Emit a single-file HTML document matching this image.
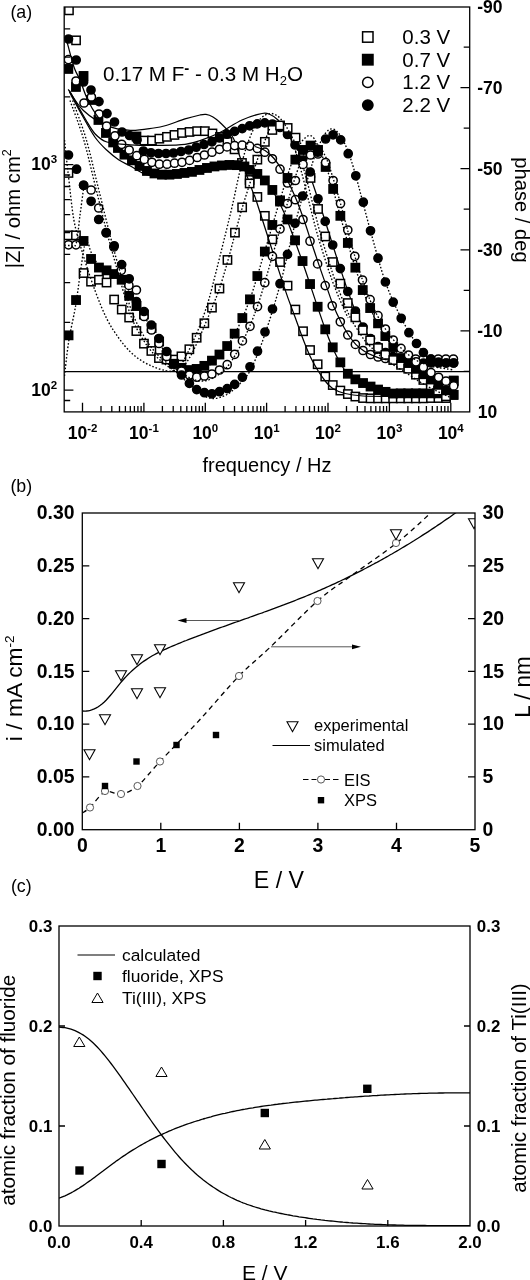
<!DOCTYPE html>
<html lang="en"><head><meta charset="utf-8"><title>Figure</title>
<style>html,body{margin:0;padding:0;background:#fff}body{width:530px;height:1280px;overflow:hidden}svg{display:block}</style>
</head><body>
<svg width="530" height="1280" viewBox="0 0 530 1280" style="display:block">
<rect width="530" height="1280" fill="#fff"/>
<defs><clipPath id="ca"><rect x="64.2" y="7.0" width="405.5" height="404.9"/></clipPath>
<clipPath id="cb"><rect x="82.3" y="513" width="392.7" height="316.7"/></clipPath>
<clipPath id="cc"><rect x="59" y="926" width="411" height="300"/></clipPath></defs>
<g clip-path="url(#ca)">
<path d="M64.2,371.6H469.7" stroke="#000" stroke-width="1.2" fill="none"/>
<rect x="64.8" y="6.2" width="8.3" height="8.3" fill="#fff" stroke="#000" stroke-width="1.5"/><rect x="71.9" y="36.2" width="8.3" height="8.3" fill="#fff" stroke="#000" stroke-width="1.5"/><rect x="140.2" y="136.4" width="8.3" height="8.3" fill="#fff" stroke="#000" stroke-width="1.5"/><rect x="147.8" y="136.4" width="8.3" height="8.3" fill="#fff" stroke="#000" stroke-width="1.5"/><rect x="155.2" y="134.5" width="8.3" height="8.3" fill="#fff" stroke="#000" stroke-width="1.5"/><rect x="162.8" y="132.7" width="8.3" height="8.3" fill="#fff" stroke="#000" stroke-width="1.5"/><rect x="170.3" y="130.8" width="8.3" height="8.3" fill="#fff" stroke="#000" stroke-width="1.5"/><rect x="177.8" y="128.8" width="8.3" height="8.3" fill="#fff" stroke="#000" stroke-width="1.5"/><rect x="185.4" y="127.8" width="8.3" height="8.3" fill="#fff" stroke="#000" stroke-width="1.5"/><rect x="193.0" y="127.0" width="8.3" height="8.3" fill="#fff" stroke="#000" stroke-width="1.5"/><rect x="200.7" y="127.0" width="8.3" height="8.3" fill="#fff" stroke="#000" stroke-width="1.5"/><rect x="208.3" y="129.3" width="8.3" height="8.3" fill="#fff" stroke="#000" stroke-width="1.5"/><rect x="215.8" y="132.8" width="8.3" height="8.3" fill="#fff" stroke="#000" stroke-width="1.5"/><rect x="223.3" y="137.8" width="8.3" height="8.3" fill="#fff" stroke="#000" stroke-width="1.5"/><rect x="230.4" y="145.2" width="8.3" height="8.3" fill="#fff" stroke="#000" stroke-width="1.5"/><rect x="237.8" y="158.8" width="8.3" height="8.3" fill="#fff" stroke="#000" stroke-width="1.5"/><rect x="245.5" y="175.8" width="8.3" height="8.3" fill="#fff" stroke="#000" stroke-width="1.5"/><rect x="253.2" y="192.8" width="8.3" height="8.3" fill="#fff" stroke="#000" stroke-width="1.5"/><rect x="260.7" y="211.7" width="8.3" height="8.3" fill="#fff" stroke="#000" stroke-width="1.5"/><rect x="268.2" y="235.2" width="8.3" height="8.3" fill="#fff" stroke="#000" stroke-width="1.5"/><rect x="275.9" y="257.9" width="8.3" height="8.3" fill="#fff" stroke="#000" stroke-width="1.5"/><rect x="283.4" y="281.5" width="8.3" height="8.3" fill="#fff" stroke="#000" stroke-width="1.5"/><rect x="291.2" y="305.4" width="8.3" height="8.3" fill="#fff" stroke="#000" stroke-width="1.5"/><rect x="298.9" y="327.1" width="8.3" height="8.3" fill="#fff" stroke="#000" stroke-width="1.5"/><rect x="305.9" y="345.9" width="8.3" height="8.3" fill="#fff" stroke="#000" stroke-width="1.5"/><rect x="313.5" y="360.1" width="8.3" height="8.3" fill="#fff" stroke="#000" stroke-width="1.5"/><rect x="321.1" y="372.4" width="8.3" height="8.3" fill="#fff" stroke="#000" stroke-width="1.5"/><rect x="328.6" y="380.9" width="8.3" height="8.3" fill="#fff" stroke="#000" stroke-width="1.5"/><rect x="336.2" y="386.4" width="8.3" height="8.3" fill="#fff" stroke="#000" stroke-width="1.5"/><rect x="343.7" y="389.9" width="8.3" height="8.3" fill="#fff" stroke="#000" stroke-width="1.5"/><rect x="351.2" y="392.4" width="8.3" height="8.3" fill="#fff" stroke="#000" stroke-width="1.5"/><rect x="358.9" y="393.9" width="8.3" height="8.3" fill="#fff" stroke="#000" stroke-width="1.5"/><rect x="366.4" y="394.2" width="8.3" height="8.3" fill="#fff" stroke="#000" stroke-width="1.5"/><rect x="373.9" y="394.2" width="8.3" height="8.3" fill="#fff" stroke="#000" stroke-width="1.5"/><rect x="381.5" y="394.2" width="8.3" height="8.3" fill="#fff" stroke="#000" stroke-width="1.5"/><rect x="389.0" y="394.2" width="8.3" height="8.3" fill="#fff" stroke="#000" stroke-width="1.5"/><rect x="396.6" y="394.2" width="8.3" height="8.3" fill="#fff" stroke="#000" stroke-width="1.5"/><rect x="404.1" y="394.2" width="8.3" height="8.3" fill="#fff" stroke="#000" stroke-width="1.5"/><rect x="411.7" y="394.2" width="8.3" height="8.3" fill="#fff" stroke="#000" stroke-width="1.5"/><rect x="419.2" y="394.2" width="8.3" height="8.3" fill="#fff" stroke="#000" stroke-width="1.5"/><rect x="426.8" y="393.9" width="8.3" height="8.3" fill="#fff" stroke="#000" stroke-width="1.5"/><rect x="434.3" y="393.9" width="8.3" height="8.3" fill="#fff" stroke="#000" stroke-width="1.5"/><rect x="441.9" y="393.9" width="8.3" height="8.3" fill="#fff" stroke="#000" stroke-width="1.5"/><rect x="449.4" y="390.7" width="8.3" height="8.3" fill="#fff" stroke="#000" stroke-width="1.5"/>
<path d="M68.2,89.4C70.7,92.9 77.0,104.5 83.4,110.5C89.9,116.5 99.1,122.4 106.9,125.7C114.7,129.0 122.5,130.0 130.3,130.4C138.1,130.8 147.9,128.8 153.8,128.0C159.8,127.2 160.8,127.0 166.0,125.5C171.2,124.0 179.3,120.7 185.0,118.9C190.7,117.2 196.5,115.8 200.0,115.0C203.5,114.2 203.8,114.1 206.0,114.4C208.2,114.7 210.8,115.7 213.0,117.0C215.2,118.3 216.2,118.7 219.5,122.0C222.8,125.3 229.2,131.0 232.7,137.0C236.2,143.0 236.8,148.4 240.3,157.8C243.8,167.2 250.7,186.2 253.5,193.7C256.3,201.2 252.0,187.7 257.0,203.0C262.0,218.3 277.3,266.4 283.7,285.6C290.1,304.8 292.2,309.1 295.4,318.0C298.6,326.9 300.6,332.7 303.0,339.0C305.4,345.3 307.6,350.8 310.0,356.0C312.4,361.2 315.1,365.8 317.6,370.0C320.1,374.2 322.7,377.9 325.2,381.0C327.7,384.1 329.4,386.4 332.7,388.5C336.0,390.6 339.9,392.2 345.0,393.5C350.1,394.8 353.8,395.5 363.0,396.0C372.2,396.5 384.9,396.4 400.0,396.5C415.1,396.6 444.7,396.5 453.6,396.5" fill="none" stroke="#000" stroke-width="1.25"/>
<rect x="64.2" y="64.8" width="8.3" height="8.3" fill="#000" stroke="#000" stroke-width="1.5"/><rect x="71.8" y="82.8" width="8.3" height="8.3" fill="#000" stroke="#000" stroke-width="1.5"/><rect x="79.4" y="71.8" width="8.3" height="8.3" fill="#000" stroke="#000" stroke-width="1.5"/><rect x="86.8" y="95.8" width="8.3" height="8.3" fill="#000" stroke="#000" stroke-width="1.5"/><rect x="94.3" y="115.8" width="8.3" height="8.3" fill="#000" stroke="#000" stroke-width="1.5"/><rect x="101.8" y="128.8" width="8.3" height="8.3" fill="#000" stroke="#000" stroke-width="1.5"/><rect x="109.0" y="138.3" width="8.3" height="8.3" fill="#000" stroke="#000" stroke-width="1.5"/><rect x="113.8" y="143.8" width="8.3" height="8.3" fill="#000" stroke="#000" stroke-width="1.5"/><rect x="120.3" y="150.5" width="8.3" height="8.3" fill="#000" stroke="#000" stroke-width="1.5"/><rect x="127.8" y="156.2" width="8.3" height="8.3" fill="#000" stroke="#000" stroke-width="1.5"/><rect x="135.4" y="161.8" width="8.3" height="8.3" fill="#000" stroke="#000" stroke-width="1.5"/><rect x="142.8" y="166.8" width="8.3" height="8.3" fill="#000" stroke="#000" stroke-width="1.5"/><rect x="150.3" y="169.3" width="8.3" height="8.3" fill="#000" stroke="#000" stroke-width="1.5"/><rect x="157.8" y="170.5" width="8.3" height="8.3" fill="#000" stroke="#000" stroke-width="1.5"/><rect x="165.3" y="170.5" width="8.3" height="8.3" fill="#000" stroke="#000" stroke-width="1.5"/><rect x="172.8" y="169.8" width="8.3" height="8.3" fill="#000" stroke="#000" stroke-width="1.5"/><rect x="180.3" y="168.8" width="8.3" height="8.3" fill="#000" stroke="#000" stroke-width="1.5"/><rect x="187.8" y="167.7" width="8.3" height="8.3" fill="#000" stroke="#000" stroke-width="1.5"/><rect x="195.3" y="165.8" width="8.3" height="8.3" fill="#000" stroke="#000" stroke-width="1.5"/><rect x="202.8" y="163.8" width="8.3" height="8.3" fill="#000" stroke="#000" stroke-width="1.5"/><rect x="210.3" y="162.3" width="8.3" height="8.3" fill="#000" stroke="#000" stroke-width="1.5"/><rect x="217.8" y="161.3" width="8.3" height="8.3" fill="#000" stroke="#000" stroke-width="1.5"/><rect x="225.3" y="160.8" width="8.3" height="8.3" fill="#000" stroke="#000" stroke-width="1.5"/><rect x="232.8" y="161.0" width="8.3" height="8.3" fill="#000" stroke="#000" stroke-width="1.5"/><rect x="240.3" y="162.3" width="8.3" height="8.3" fill="#000" stroke="#000" stroke-width="1.5"/><rect x="245.5" y="165.8" width="8.3" height="8.3" fill="#000" stroke="#000" stroke-width="1.5"/><rect x="253.2" y="169.8" width="8.3" height="8.3" fill="#000" stroke="#000" stroke-width="1.5"/><rect x="260.7" y="176.3" width="8.3" height="8.3" fill="#000" stroke="#000" stroke-width="1.5"/><rect x="268.2" y="185.8" width="8.3" height="8.3" fill="#000" stroke="#000" stroke-width="1.5"/><rect x="275.9" y="196.2" width="8.3" height="8.3" fill="#000" stroke="#000" stroke-width="1.5"/><rect x="283.4" y="215.3" width="8.3" height="8.3" fill="#000" stroke="#000" stroke-width="1.5"/><rect x="290.9" y="236.2" width="8.3" height="8.3" fill="#000" stroke="#000" stroke-width="1.5"/><rect x="298.4" y="256.9" width="8.3" height="8.3" fill="#000" stroke="#000" stroke-width="1.5"/><rect x="305.9" y="279.9" width="8.3" height="8.3" fill="#000" stroke="#000" stroke-width="1.5"/><rect x="313.5" y="302.6" width="8.3" height="8.3" fill="#000" stroke="#000" stroke-width="1.5"/><rect x="321.1" y="325.2" width="8.3" height="8.3" fill="#000" stroke="#000" stroke-width="1.5"/><rect x="328.6" y="343.2" width="8.3" height="8.3" fill="#000" stroke="#000" stroke-width="1.5"/><rect x="336.2" y="358.2" width="8.3" height="8.3" fill="#000" stroke="#000" stroke-width="1.5"/><rect x="343.7" y="369.6" width="8.3" height="8.3" fill="#000" stroke="#000" stroke-width="1.5"/><rect x="351.2" y="375.2" width="8.3" height="8.3" fill="#000" stroke="#000" stroke-width="1.5"/><rect x="358.9" y="378.9" width="8.3" height="8.3" fill="#000" stroke="#000" stroke-width="1.5"/><rect x="366.4" y="382.4" width="8.3" height="8.3" fill="#000" stroke="#000" stroke-width="1.5"/><rect x="373.9" y="385.4" width="8.3" height="8.3" fill="#000" stroke="#000" stroke-width="1.5"/><rect x="381.4" y="387.7" width="8.3" height="8.3" fill="#000" stroke="#000" stroke-width="1.5"/><rect x="388.9" y="389.4" width="8.3" height="8.3" fill="#000" stroke="#000" stroke-width="1.5"/><rect x="396.5" y="389.2" width="8.3" height="8.3" fill="#000" stroke="#000" stroke-width="1.5"/><rect x="404.0" y="389.2" width="8.3" height="8.3" fill="#000" stroke="#000" stroke-width="1.5"/><rect x="411.6" y="389.2" width="8.3" height="8.3" fill="#000" stroke="#000" stroke-width="1.5"/><rect x="419.1" y="389.2" width="8.3" height="8.3" fill="#000" stroke="#000" stroke-width="1.5"/><rect x="426.7" y="389.2" width="8.3" height="8.3" fill="#000" stroke="#000" stroke-width="1.5"/><rect x="434.2" y="389.2" width="8.3" height="8.3" fill="#000" stroke="#000" stroke-width="1.5"/><rect x="441.8" y="389.2" width="8.3" height="8.3" fill="#000" stroke="#000" stroke-width="1.5"/><rect x="449.3" y="390.7" width="8.3" height="8.3" fill="#000" stroke="#000" stroke-width="1.5"/>
<rect x="132.3" y="132.3" width="8.3" height="8.3" fill="#000" stroke="#000" stroke-width="1.5"/>
<path d="M69.4,92.0C71.7,96.2 79.1,109.9 83.4,117.5C87.7,125.1 91.3,132.0 95.2,137.5C99.1,143.0 103.0,146.6 106.9,150.3C110.8,154.0 114.7,157.1 118.6,159.7C122.5,162.3 125.5,163.4 130.3,166.0C135.1,168.6 140.6,173.1 147.2,175.0C153.8,176.9 161.2,177.8 170.0,177.5C178.8,177.2 191.3,174.6 200.0,173.0C208.7,171.4 215.3,169.0 222.0,168.0C228.7,167.0 235.3,166.8 240.0,167.0C244.7,167.2 246.5,167.9 250.0,169.5C253.5,171.1 257.6,173.4 261.0,176.5C264.4,179.6 267.3,183.4 270.5,188.0C273.7,192.6 277.2,198.5 280.0,204.0C282.8,209.5 283.8,211.3 287.5,221.0C291.2,230.7 297.5,247.7 302.5,262.0C307.5,276.3 313.8,295.8 317.6,307.0C321.4,318.2 322.7,322.2 325.2,329.0C327.7,335.8 330.2,342.3 332.7,348.0C335.2,353.7 337.8,358.7 340.3,363.0C342.8,367.3 344.0,370.2 347.8,373.7C351.6,377.2 356.8,381.0 363.0,384.0C369.2,387.0 377.2,389.8 385.0,391.5C392.8,393.2 398.6,393.5 410.0,394.0C421.4,394.5 446.3,394.4 453.6,394.5" fill="none" stroke="#000" stroke-width="1.25"/>
<circle cx="68.4" cy="59.6" r="4.1" fill="#fff" stroke="#000" stroke-width="1.5"/><circle cx="76.0" cy="81.0" r="4.1" fill="#fff" stroke="#000" stroke-width="1.5"/><circle cx="84.0" cy="103.0" r="4.1" fill="#fff" stroke="#000" stroke-width="1.5"/><circle cx="91.4" cy="97.0" r="4.1" fill="#fff" stroke="#000" stroke-width="1.5"/><circle cx="99.0" cy="114.0" r="4.1" fill="#fff" stroke="#000" stroke-width="1.5"/><circle cx="106.6" cy="126.0" r="4.1" fill="#fff" stroke="#000" stroke-width="1.5"/><circle cx="115.0" cy="135.8" r="4.1" fill="#fff" stroke="#000" stroke-width="1.5"/><circle cx="121.7" cy="144.3" r="4.1" fill="#fff" stroke="#000" stroke-width="1.5"/><circle cx="129.2" cy="150.0" r="4.1" fill="#fff" stroke="#000" stroke-width="1.5"/><circle cx="136.8" cy="155.7" r="4.1" fill="#fff" stroke="#000" stroke-width="1.5"/><circle cx="144.3" cy="159.4" r="4.1" fill="#fff" stroke="#000" stroke-width="1.5"/><circle cx="151.9" cy="162.3" r="4.1" fill="#fff" stroke="#000" stroke-width="1.5"/><circle cx="159.4" cy="164.2" r="4.1" fill="#fff" stroke="#000" stroke-width="1.5"/><circle cx="167.0" cy="164.2" r="4.1" fill="#fff" stroke="#000" stroke-width="1.5"/><circle cx="174.5" cy="163.2" r="4.1" fill="#fff" stroke="#000" stroke-width="1.5"/><circle cx="182.0" cy="162.3" r="4.1" fill="#fff" stroke="#000" stroke-width="1.5"/><circle cx="189.6" cy="160.4" r="4.1" fill="#fff" stroke="#000" stroke-width="1.5"/><circle cx="197.2" cy="157.5" r="4.1" fill="#fff" stroke="#000" stroke-width="1.5"/><circle cx="204.4" cy="155.0" r="4.1" fill="#fff" stroke="#000" stroke-width="1.5"/><circle cx="212.0" cy="152.2" r="4.1" fill="#fff" stroke="#000" stroke-width="1.5"/><circle cx="219.5" cy="149.3" r="4.1" fill="#fff" stroke="#000" stroke-width="1.5"/><circle cx="227.0" cy="146.9" r="4.1" fill="#fff" stroke="#000" stroke-width="1.5"/><circle cx="234.6" cy="145.6" r="4.1" fill="#fff" stroke="#000" stroke-width="1.5"/><circle cx="242.2" cy="145.2" r="4.1" fill="#fff" stroke="#000" stroke-width="1.5"/><circle cx="249.7" cy="146.1" r="4.1" fill="#fff" stroke="#000" stroke-width="1.5"/><circle cx="257.3" cy="148.4" r="4.1" fill="#fff" stroke="#000" stroke-width="1.5"/><circle cx="264.8" cy="152.2" r="4.1" fill="#fff" stroke="#000" stroke-width="1.5"/><circle cx="272.4" cy="158.8" r="4.1" fill="#fff" stroke="#000" stroke-width="1.5"/><circle cx="280.0" cy="169.2" r="4.1" fill="#fff" stroke="#000" stroke-width="1.5"/><circle cx="287.5" cy="183.0" r="4.1" fill="#fff" stroke="#000" stroke-width="1.5"/><circle cx="295.4" cy="199.7" r="4.1" fill="#fff" stroke="#000" stroke-width="1.5"/><circle cx="303.0" cy="219.5" r="4.1" fill="#fff" stroke="#000" stroke-width="1.5"/><circle cx="310.0" cy="241.2" r="4.1" fill="#fff" stroke="#000" stroke-width="1.5"/><circle cx="317.6" cy="263.9" r="4.1" fill="#fff" stroke="#000" stroke-width="1.5"/><circle cx="325.2" cy="285.6" r="4.1" fill="#fff" stroke="#000" stroke-width="1.5"/><circle cx="332.2" cy="305.8" r="4.1" fill="#fff" stroke="#000" stroke-width="1.5"/><circle cx="340.3" cy="321.8" r="4.1" fill="#fff" stroke="#000" stroke-width="1.5"/><circle cx="347.8" cy="335.0" r="4.1" fill="#fff" stroke="#000" stroke-width="1.5"/><circle cx="355.4" cy="344.4" r="4.1" fill="#fff" stroke="#000" stroke-width="1.5"/><circle cx="363.0" cy="350.5" r="4.1" fill="#fff" stroke="#000" stroke-width="1.5"/><circle cx="370.5" cy="354.5" r="4.1" fill="#fff" stroke="#000" stroke-width="1.5"/><circle cx="378.0" cy="357.0" r="4.1" fill="#fff" stroke="#000" stroke-width="1.5"/><circle cx="385.4" cy="358.5" r="4.1" fill="#fff" stroke="#000" stroke-width="1.5"/><circle cx="393.0" cy="359.0" r="4.1" fill="#fff" stroke="#000" stroke-width="1.5"/><circle cx="400.6" cy="359.0" r="4.1" fill="#fff" stroke="#000" stroke-width="1.5"/><circle cx="408.1" cy="359.0" r="4.1" fill="#fff" stroke="#000" stroke-width="1.5"/><circle cx="415.7" cy="359.0" r="4.1" fill="#fff" stroke="#000" stroke-width="1.5"/><circle cx="423.2" cy="359.0" r="4.1" fill="#fff" stroke="#000" stroke-width="1.5"/><circle cx="430.8" cy="359.0" r="4.1" fill="#fff" stroke="#000" stroke-width="1.5"/><circle cx="438.3" cy="359.0" r="4.1" fill="#fff" stroke="#000" stroke-width="1.5"/><circle cx="445.9" cy="359.0" r="4.1" fill="#fff" stroke="#000" stroke-width="1.5"/><circle cx="453.4" cy="359.0" r="4.1" fill="#fff" stroke="#000" stroke-width="1.5"/>
<path d="M255.0,146.5C256.7,147.2 261.8,148.5 265.0,150.5C268.2,152.5 271.2,155.2 274.0,158.5C276.8,161.8 279.5,165.8 282.0,170.0C284.5,174.2 286.6,178.5 289.0,183.5C291.4,188.5 294.0,193.9 296.5,200.0C299.0,206.1 301.6,213.1 304.0,220.0C306.4,226.9 308.6,233.9 311.0,241.2C313.4,248.5 316.1,256.5 318.6,263.9C321.1,271.3 323.7,278.6 326.2,285.6C328.7,292.6 331.0,299.9 333.5,306.0C336.0,312.1 338.5,317.2 341.0,322.0C343.5,326.8 346.0,331.2 348.5,335.0C351.0,338.8 353.4,341.9 356.0,344.6C358.6,347.3 361.3,349.2 364.0,351.0C366.7,352.8 368.5,353.8 372.0,355.2C375.5,356.6 378.7,358.4 385.0,359.5C391.3,360.6 398.6,361.5 410.0,362.0C421.4,362.5 446.3,362.4 453.6,362.5" fill="none" stroke="#000" stroke-width="1.25"/>
<circle cx="68.5" cy="39.0" r="4.1" fill="#000" stroke="#000" stroke-width="1.5"/><circle cx="76.2" cy="60.0" r="4.1" fill="#000" stroke="#000" stroke-width="1.5"/><circle cx="83.6" cy="82.0" r="4.1" fill="#000" stroke="#000" stroke-width="1.5"/><circle cx="91.0" cy="90.0" r="4.1" fill="#000" stroke="#000" stroke-width="1.5"/><circle cx="99.0" cy="101.6" r="4.1" fill="#000" stroke="#000" stroke-width="1.5"/><circle cx="107.0" cy="113.6" r="4.1" fill="#000" stroke="#000" stroke-width="1.5"/><circle cx="114.5" cy="122.0" r="4.1" fill="#000" stroke="#000" stroke-width="1.5"/><circle cx="122.0" cy="132.0" r="4.1" fill="#000" stroke="#000" stroke-width="1.5"/><circle cx="129.5" cy="135.5" r="4.1" fill="#000" stroke="#000" stroke-width="1.5"/><circle cx="137.0" cy="140.0" r="4.1" fill="#000" stroke="#000" stroke-width="1.5"/><circle cx="143.4" cy="151.0" r="4.1" fill="#000" stroke="#000" stroke-width="1.5"/><circle cx="151.0" cy="152.8" r="4.1" fill="#000" stroke="#000" stroke-width="1.5"/><circle cx="158.5" cy="153.5" r="4.1" fill="#000" stroke="#000" stroke-width="1.5"/><circle cx="166.0" cy="153.5" r="4.1" fill="#000" stroke="#000" stroke-width="1.5"/><circle cx="173.5" cy="153.0" r="4.1" fill="#000" stroke="#000" stroke-width="1.5"/><circle cx="181.0" cy="151.5" r="4.1" fill="#000" stroke="#000" stroke-width="1.5"/><circle cx="188.7" cy="150.0" r="4.1" fill="#000" stroke="#000" stroke-width="1.5"/><circle cx="196.2" cy="147.2" r="4.1" fill="#000" stroke="#000" stroke-width="1.5"/><circle cx="204.0" cy="144.5" r="4.1" fill="#000" stroke="#000" stroke-width="1.5"/><circle cx="212.0" cy="141.8" r="4.1" fill="#000" stroke="#000" stroke-width="1.5"/><circle cx="219.5" cy="138.0" r="4.1" fill="#000" stroke="#000" stroke-width="1.5"/><circle cx="227.0" cy="134.2" r="4.1" fill="#000" stroke="#000" stroke-width="1.5"/><circle cx="234.6" cy="131.4" r="4.1" fill="#000" stroke="#000" stroke-width="1.5"/><circle cx="242.2" cy="128.6" r="4.1" fill="#000" stroke="#000" stroke-width="1.5"/><circle cx="249.7" cy="125.8" r="4.1" fill="#000" stroke="#000" stroke-width="1.5"/><circle cx="257.3" cy="123.9" r="4.1" fill="#000" stroke="#000" stroke-width="1.5"/><circle cx="264.8" cy="122.9" r="4.1" fill="#000" stroke="#000" stroke-width="1.5"/><circle cx="272.4" cy="124.0" r="4.1" fill="#000" stroke="#000" stroke-width="1.5"/><circle cx="280.0" cy="127.5" r="4.1" fill="#000" stroke="#000" stroke-width="1.5"/><circle cx="287.5" cy="134.5" r="4.1" fill="#000" stroke="#000" stroke-width="1.5"/><circle cx="295.0" cy="145.0" r="4.1" fill="#000" stroke="#000" stroke-width="1.5"/><circle cx="303.0" cy="158.0" r="4.1" fill="#000" stroke="#000" stroke-width="1.5"/><circle cx="310.5" cy="177.0" r="4.1" fill="#000" stroke="#000" stroke-width="1.5"/><circle cx="318.0" cy="198.8" r="4.1" fill="#000" stroke="#000" stroke-width="1.5"/><circle cx="325.2" cy="221.4" r="4.1" fill="#000" stroke="#000" stroke-width="1.5"/><circle cx="332.7" cy="245.0" r="4.1" fill="#000" stroke="#000" stroke-width="1.5"/><circle cx="340.3" cy="268.6" r="4.1" fill="#000" stroke="#000" stroke-width="1.5"/><circle cx="347.8" cy="291.5" r="4.1" fill="#000" stroke="#000" stroke-width="1.5"/><circle cx="355.4" cy="311.0" r="4.1" fill="#000" stroke="#000" stroke-width="1.5"/><circle cx="363.0" cy="327.0" r="4.1" fill="#000" stroke="#000" stroke-width="1.5"/><circle cx="370.5" cy="338.5" r="4.1" fill="#000" stroke="#000" stroke-width="1.5"/><circle cx="378.0" cy="346.5" r="4.1" fill="#000" stroke="#000" stroke-width="1.5"/><circle cx="385.5" cy="352.5" r="4.1" fill="#000" stroke="#000" stroke-width="1.5"/><circle cx="393.0" cy="356.5" r="4.1" fill="#000" stroke="#000" stroke-width="1.5"/><circle cx="400.7" cy="359.5" r="4.1" fill="#000" stroke="#000" stroke-width="1.5"/><circle cx="408.0" cy="361.5" r="4.1" fill="#000" stroke="#000" stroke-width="1.5"/><circle cx="416.0" cy="362.5" r="4.1" fill="#000" stroke="#000" stroke-width="1.5"/><circle cx="423.5" cy="363.0" r="4.1" fill="#000" stroke="#000" stroke-width="1.5"/><circle cx="431.1" cy="363.0" r="4.1" fill="#000" stroke="#000" stroke-width="1.5"/><circle cx="438.6" cy="363.0" r="4.1" fill="#000" stroke="#000" stroke-width="1.5"/><circle cx="446.2" cy="363.0" r="4.1" fill="#000" stroke="#000" stroke-width="1.5"/><circle cx="453.7" cy="363.0" r="4.1" fill="#000" stroke="#000" stroke-width="1.5"/>
<path d="M69.4,90.5C72.1,95.4 81.5,112.5 85.8,119.8C90.1,127.0 91.7,130.3 95.2,134.0C98.7,137.7 101.1,140.2 106.9,142.0C112.8,143.8 121.1,144.2 130.3,144.8C139.5,145.4 152.9,145.4 162.0,145.3C171.1,145.2 178.7,145.1 185.0,144.3C191.3,143.5 194.3,142.5 200.0,140.6C205.7,138.7 212.0,136.4 219.0,133.0C226.0,129.6 234.8,123.2 242.0,120.0C249.2,116.8 257.3,114.4 262.0,113.5C266.7,112.6 267.3,113.4 270.0,114.5C272.7,115.6 275.1,116.7 278.0,120.0C280.9,123.3 283.3,128.2 287.5,134.5C291.7,140.8 297.9,147.2 303.0,158.0C308.1,168.8 311.8,180.6 318.0,199.0C324.2,217.4 334.1,249.9 340.3,268.6C346.5,287.3 350.4,299.4 355.4,311.0C360.4,322.6 365.5,331.6 370.5,338.5C375.5,345.4 379.2,348.7 385.5,352.5C391.8,356.3 396.6,359.6 408.0,361.5C419.4,363.4 446.0,363.6 453.6,364.0" fill="none" stroke="#000" stroke-width="1.25"/>
<path d="M66.0,38.0C66.4,39.5 66.9,41.6 68.3,46.7C69.7,51.8 72.5,63.0 74.5,68.5C76.5,74.0 78.1,75.4 80.0,80.0C81.9,84.6 84.0,91.3 86.0,96.0C88.0,100.7 89.7,104.0 92.0,108.0C94.3,112.0 98.7,118.0 100.0,120.0" fill="none" stroke="#000" stroke-width="1.25"/>
<rect x="64.3" y="168.8" width="8.3" height="8.3" fill="#fff" stroke="#000" stroke-width="1.5"/><rect x="64.3" y="231.2" width="8.3" height="8.3" fill="#fff" stroke="#000" stroke-width="1.5"/><rect x="71.8" y="231.2" width="8.3" height="8.3" fill="#fff" stroke="#000" stroke-width="1.5"/><rect x="79.4" y="268.9" width="8.3" height="8.3" fill="#fff" stroke="#000" stroke-width="1.5"/><rect x="86.9" y="277.5" width="8.3" height="8.3" fill="#fff" stroke="#000" stroke-width="1.5"/><rect x="94.8" y="275.6" width="8.3" height="8.3" fill="#fff" stroke="#000" stroke-width="1.5"/><rect x="102.4" y="278.4" width="8.3" height="8.3" fill="#fff" stroke="#000" stroke-width="1.5"/><rect x="110.0" y="295.4" width="8.3" height="8.3" fill="#fff" stroke="#000" stroke-width="1.5"/><rect x="117.6" y="305.4" width="8.3" height="8.3" fill="#fff" stroke="#000" stroke-width="1.5"/><rect x="125.0" y="313.4" width="8.3" height="8.3" fill="#fff" stroke="#000" stroke-width="1.5"/><rect x="132.2" y="326.9" width="8.3" height="8.3" fill="#fff" stroke="#000" stroke-width="1.5"/><rect x="139.8" y="339.5" width="8.3" height="8.3" fill="#fff" stroke="#000" stroke-width="1.5"/><rect x="147.2" y="346.8" width="8.3" height="8.3" fill="#fff" stroke="#000" stroke-width="1.5"/><rect x="154.8" y="353.9" width="8.3" height="8.3" fill="#fff" stroke="#000" stroke-width="1.5"/><rect x="162.3" y="355.4" width="8.3" height="8.3" fill="#fff" stroke="#000" stroke-width="1.5"/><rect x="169.8" y="355.4" width="8.3" height="8.3" fill="#fff" stroke="#000" stroke-width="1.5"/><rect x="177.3" y="352.2" width="8.3" height="8.3" fill="#fff" stroke="#000" stroke-width="1.5"/><rect x="185.2" y="345.1" width="8.3" height="8.3" fill="#fff" stroke="#000" stroke-width="1.5"/><rect x="192.5" y="333.6" width="8.3" height="8.3" fill="#fff" stroke="#000" stroke-width="1.5"/><rect x="200.2" y="319.1" width="8.3" height="8.3" fill="#fff" stroke="#000" stroke-width="1.5"/><rect x="207.8" y="303.5" width="8.3" height="8.3" fill="#fff" stroke="#000" stroke-width="1.5"/><rect x="215.3" y="284.4" width="8.3" height="8.3" fill="#fff" stroke="#000" stroke-width="1.5"/><rect x="223.3" y="255.8" width="8.3" height="8.3" fill="#fff" stroke="#000" stroke-width="1.5"/><rect x="230.8" y="228.5" width="8.3" height="8.3" fill="#fff" stroke="#000" stroke-width="1.5"/><rect x="238.0" y="203.2" width="8.3" height="8.3" fill="#fff" stroke="#000" stroke-width="1.5"/><rect x="245.5" y="179.3" width="8.3" height="8.3" fill="#fff" stroke="#000" stroke-width="1.5"/><rect x="253.2" y="155.5" width="8.3" height="8.3" fill="#fff" stroke="#000" stroke-width="1.5"/><rect x="260.7" y="137.7" width="8.3" height="8.3" fill="#fff" stroke="#000" stroke-width="1.5"/><rect x="268.2" y="125.8" width="8.3" height="8.3" fill="#fff" stroke="#000" stroke-width="1.5"/><rect x="275.9" y="121.3" width="8.3" height="8.3" fill="#fff" stroke="#000" stroke-width="1.5"/><rect x="283.5" y="123.8" width="8.3" height="8.3" fill="#fff" stroke="#000" stroke-width="1.5"/><rect x="291.4" y="133.5" width="8.3" height="8.3" fill="#fff" stroke="#000" stroke-width="1.5"/><rect x="298.9" y="147.8" width="8.3" height="8.3" fill="#fff" stroke="#000" stroke-width="1.5"/><rect x="306.4" y="173.8" width="8.3" height="8.3" fill="#fff" stroke="#000" stroke-width="1.5"/><rect x="313.9" y="204.8" width="8.3" height="8.3" fill="#fff" stroke="#000" stroke-width="1.5"/><rect x="321.1" y="232.3" width="8.3" height="8.3" fill="#fff" stroke="#000" stroke-width="1.5"/><rect x="328.6" y="257.9" width="8.3" height="8.3" fill="#fff" stroke="#000" stroke-width="1.5"/><rect x="336.2" y="279.5" width="8.3" height="8.3" fill="#fff" stroke="#000" stroke-width="1.5"/><rect x="343.6" y="298.9" width="8.3" height="8.3" fill="#fff" stroke="#000" stroke-width="1.5"/><rect x="351.2" y="313.2" width="8.3" height="8.3" fill="#fff" stroke="#000" stroke-width="1.5"/><rect x="358.6" y="326.1" width="8.3" height="8.3" fill="#fff" stroke="#000" stroke-width="1.5"/><rect x="366.0" y="336.2" width="8.3" height="8.3" fill="#fff" stroke="#000" stroke-width="1.5"/><rect x="373.9" y="343.9" width="8.3" height="8.3" fill="#fff" stroke="#000" stroke-width="1.5"/><rect x="381.2" y="350.7" width="8.3" height="8.3" fill="#fff" stroke="#000" stroke-width="1.5"/><rect x="389.1" y="355.9" width="8.3" height="8.3" fill="#fff" stroke="#000" stroke-width="1.5"/><rect x="396.9" y="360.7" width="8.3" height="8.3" fill="#fff" stroke="#000" stroke-width="1.5"/><rect x="404.1" y="364.6" width="8.3" height="8.3" fill="#fff" stroke="#000" stroke-width="1.5"/><rect x="411.8" y="370.5" width="8.3" height="8.3" fill="#fff" stroke="#000" stroke-width="1.5"/><rect x="419.2" y="375.8" width="8.3" height="8.3" fill="#fff" stroke="#000" stroke-width="1.5"/><rect x="426.6" y="381.1" width="8.3" height="8.3" fill="#fff" stroke="#000" stroke-width="1.5"/><rect x="433.9" y="386.4" width="8.3" height="8.3" fill="#fff" stroke="#000" stroke-width="1.5"/><rect x="441.8" y="392.1" width="8.3" height="8.3" fill="#fff" stroke="#000" stroke-width="1.5"/><rect x="449.5" y="376.9" width="8.3" height="8.3" fill="#fff" stroke="#000" stroke-width="1.5"/>
<path d="M64.5,140.0C65.1,145.6 66.6,160.3 68.2,173.7C69.8,187.1 71.5,206.9 74.0,220.6C76.5,234.3 79.9,244.1 83.4,255.8C86.9,267.5 91.3,280.5 95.2,291.0C99.1,301.5 103.0,311.2 106.9,319.0C110.8,326.8 114.7,332.3 118.6,337.8C122.5,343.3 126.4,348.0 130.3,351.9C134.2,355.8 138.1,358.5 142.0,361.0C145.9,363.5 149.9,365.4 153.8,367.0C157.7,368.6 162.5,369.9 165.5,370.6C168.5,371.3 169.6,371.8 172.0,371.0C174.4,370.2 177.3,369.2 180.0,366.0C182.7,362.8 185.5,356.8 188.0,352.0C190.5,347.2 192.7,342.3 195.0,337.0C197.3,331.7 199.7,326.3 202.0,320.0C204.3,313.7 206.7,307.0 209.0,299.0C211.3,291.0 213.5,281.8 216.0,272.0C218.5,262.2 221.2,251.3 224.0,240.0C226.8,228.7 229.7,217.1 232.7,204.0C235.7,190.9 239.0,173.4 242.2,161.6C245.3,149.8 248.5,140.5 251.6,133.3C254.7,126.1 257.9,121.5 261.0,118.2C264.1,114.9 267.7,113.8 270.5,113.5C273.3,113.2 275.8,114.7 278.0,116.3C280.2,117.9 281.7,120.2 283.7,123.0C285.7,125.8 287.8,128.8 290.0,133.0C292.2,137.2 294.3,140.7 297.0,148.0C299.7,155.3 303.2,166.8 306.0,177.0C308.8,187.2 311.5,199.2 314.0,209.0C316.5,218.8 318.5,227.2 321.0,236.0C323.5,244.8 326.5,254.2 329.0,262.0C331.5,269.8 333.5,276.2 336.0,283.0C338.5,289.8 341.5,297.0 344.0,303.0C346.5,309.0 348.5,314.2 351.0,319.0C353.5,323.8 356.5,328.2 359.0,332.0C361.5,335.8 363.5,339.0 366.0,342.0C368.5,345.0 371.5,347.6 374.0,350.0C376.5,352.4 378.5,354.5 381.0,356.5C383.5,358.5 385.2,359.5 389.0,362.0C392.8,364.5 397.8,367.6 404.0,371.5C410.2,375.4 417.7,380.9 426.0,385.5C434.3,390.1 449.0,396.8 453.6,399.0" fill="none" stroke="#000" stroke-width="1.35" stroke-dasharray="1.6 1.9"/>
<path d="M170.0,371.5C171.9,370.8 178.3,369.8 181.5,367.5C184.7,365.2 186.9,362.0 189.4,358.0C191.9,354.0 194.2,348.8 196.7,343.5C199.2,338.2 201.9,331.9 204.4,326.0C206.9,320.1 209.4,314.2 211.9,308.0C214.4,301.8 216.9,296.2 219.5,288.5C222.1,280.8 224.9,271.1 227.5,262.0C230.1,252.9 232.6,243.0 235.0,234.0C237.4,225.0 239.8,216.3 242.2,208.0C244.6,199.7 247.2,192.0 249.7,184.0C252.2,176.0 254.8,167.2 257.3,160.0C259.8,152.8 262.7,146.3 264.8,141.0C266.9,135.7 269.1,130.2 270.0,128.0" fill="none" stroke="#000" stroke-width="1.35" stroke-dasharray="1.6 1.9"/>
<path d="M288.0,131.0C289.0,133.5 291.7,138.8 294.0,146.0C296.3,153.2 299.3,164.0 302.0,174.0C304.7,184.0 307.5,196.2 310.0,206.0C312.5,215.8 314.5,224.2 317.0,233.0C319.5,241.8 322.5,251.2 325.0,259.0C327.5,266.8 329.5,273.2 332.0,280.0C334.5,286.8 337.3,293.7 340.0,300.0C342.7,306.3 346.7,315.0 348.0,318.0" fill="none" stroke="#000" stroke-width="1.35" stroke-dasharray="1.6 1.9"/>
<rect x="64.4" y="331.2" width="8.3" height="8.3" fill="#000" stroke="#000" stroke-width="1.5"/><rect x="71.9" y="295.9" width="8.3" height="8.3" fill="#000" stroke="#000" stroke-width="1.5"/><rect x="79.4" y="236.8" width="8.3" height="8.3" fill="#000" stroke="#000" stroke-width="1.5"/><rect x="86.9" y="254.8" width="8.3" height="8.3" fill="#000" stroke="#000" stroke-width="1.5"/><rect x="94.8" y="263.4" width="8.3" height="8.3" fill="#000" stroke="#000" stroke-width="1.5"/><rect x="102.4" y="266.2" width="8.3" height="8.3" fill="#000" stroke="#000" stroke-width="1.5"/><rect x="110.0" y="269.9" width="8.3" height="8.3" fill="#000" stroke="#000" stroke-width="1.5"/><rect x="117.5" y="275.6" width="8.3" height="8.3" fill="#000" stroke="#000" stroke-width="1.5"/><rect x="125.0" y="291.7" width="8.3" height="8.3" fill="#000" stroke="#000" stroke-width="1.5"/><rect x="132.4" y="301.9" width="8.3" height="8.3" fill="#000" stroke="#000" stroke-width="1.5"/><rect x="139.8" y="310.4" width="8.3" height="8.3" fill="#000" stroke="#000" stroke-width="1.5"/><rect x="147.5" y="323.9" width="8.3" height="8.3" fill="#000" stroke="#000" stroke-width="1.5"/><rect x="155.0" y="337.4" width="8.3" height="8.3" fill="#000" stroke="#000" stroke-width="1.5"/><rect x="162.4" y="350.9" width="8.3" height="8.3" fill="#000" stroke="#000" stroke-width="1.5"/><rect x="169.8" y="359.6" width="8.3" height="8.3" fill="#000" stroke="#000" stroke-width="1.5"/><rect x="177.3" y="363.7" width="8.3" height="8.3" fill="#000" stroke="#000" stroke-width="1.5"/><rect x="185.2" y="365.9" width="8.3" height="8.3" fill="#000" stroke="#000" stroke-width="1.5"/><rect x="192.5" y="364.8" width="8.3" height="8.3" fill="#000" stroke="#000" stroke-width="1.5"/><rect x="200.2" y="361.7" width="8.3" height="8.3" fill="#000" stroke="#000" stroke-width="1.5"/><rect x="207.8" y="356.5" width="8.3" height="8.3" fill="#000" stroke="#000" stroke-width="1.5"/><rect x="215.3" y="350.4" width="8.3" height="8.3" fill="#000" stroke="#000" stroke-width="1.5"/><rect x="223.0" y="341.9" width="8.3" height="8.3" fill="#000" stroke="#000" stroke-width="1.5"/><rect x="230.5" y="329.5" width="8.3" height="8.3" fill="#000" stroke="#000" stroke-width="1.5"/><rect x="238.2" y="313.9" width="8.3" height="8.3" fill="#000" stroke="#000" stroke-width="1.5"/><rect x="245.8" y="295.2" width="8.3" height="8.3" fill="#000" stroke="#000" stroke-width="1.5"/><rect x="253.2" y="271.9" width="8.3" height="8.3" fill="#000" stroke="#000" stroke-width="1.5"/><rect x="260.7" y="247.4" width="8.3" height="8.3" fill="#000" stroke="#000" stroke-width="1.5"/><rect x="268.2" y="220.8" width="8.3" height="8.3" fill="#000" stroke="#000" stroke-width="1.5"/><rect x="275.9" y="197.4" width="8.3" height="8.3" fill="#000" stroke="#000" stroke-width="1.5"/><rect x="283.4" y="173.8" width="8.3" height="8.3" fill="#000" stroke="#000" stroke-width="1.5"/><rect x="291.2" y="155.5" width="8.3" height="8.3" fill="#000" stroke="#000" stroke-width="1.5"/><rect x="298.9" y="145.8" width="8.3" height="8.3" fill="#000" stroke="#000" stroke-width="1.5"/><rect x="306.4" y="141.4" width="8.3" height="8.3" fill="#000" stroke="#000" stroke-width="1.5"/><rect x="313.9" y="145.8" width="8.3" height="8.3" fill="#000" stroke="#000" stroke-width="1.5"/><rect x="321.5" y="162.8" width="8.3" height="8.3" fill="#000" stroke="#000" stroke-width="1.5"/><rect x="329.0" y="184.8" width="8.3" height="8.3" fill="#000" stroke="#000" stroke-width="1.5"/><rect x="336.2" y="211.7" width="8.3" height="8.3" fill="#000" stroke="#000" stroke-width="1.5"/><rect x="343.7" y="238.8" width="8.3" height="8.3" fill="#000" stroke="#000" stroke-width="1.5"/><rect x="351.2" y="263.5" width="8.3" height="8.3" fill="#000" stroke="#000" stroke-width="1.5"/><rect x="358.6" y="285.9" width="8.3" height="8.3" fill="#000" stroke="#000" stroke-width="1.5"/><rect x="366.0" y="303.9" width="8.3" height="8.3" fill="#000" stroke="#000" stroke-width="1.5"/><rect x="373.9" y="319.2" width="8.3" height="8.3" fill="#000" stroke="#000" stroke-width="1.5"/><rect x="381.2" y="331.9" width="8.3" height="8.3" fill="#000" stroke="#000" stroke-width="1.5"/><rect x="389.1" y="342.9" width="8.3" height="8.3" fill="#000" stroke="#000" stroke-width="1.5"/><rect x="397.1" y="353.9" width="8.3" height="8.3" fill="#000" stroke="#000" stroke-width="1.5"/><rect x="404.2" y="358.9" width="8.3" height="8.3" fill="#000" stroke="#000" stroke-width="1.5"/><rect x="411.8" y="364.7" width="8.3" height="8.3" fill="#000" stroke="#000" stroke-width="1.5"/><rect x="419.2" y="370.1" width="8.3" height="8.3" fill="#000" stroke="#000" stroke-width="1.5"/><rect x="426.8" y="375.4" width="8.3" height="8.3" fill="#000" stroke="#000" stroke-width="1.5"/><rect x="434.2" y="380.7" width="8.3" height="8.3" fill="#000" stroke="#000" stroke-width="1.5"/><rect x="441.9" y="386.2" width="8.3" height="8.3" fill="#000" stroke="#000" stroke-width="1.5"/><rect x="449.5" y="376.4" width="8.3" height="8.3" fill="#000" stroke="#000" stroke-width="1.5"/>
<path d="M64.5,376.0C65.2,370.2 66.9,353.2 68.7,341.5C70.5,329.8 73.7,317.1 75.6,306.0C77.5,294.9 78.5,285.0 80.0,275.0C81.5,265.0 83.2,251.1 84.5,245.8C85.8,240.5 86.9,242.0 88.0,243.0C89.1,244.0 89.2,248.2 91.0,252.0C92.8,255.8 96.3,263.0 99.0,266.0C101.7,269.0 103.2,267.7 107.0,270.0C110.8,272.3 116.8,274.0 121.7,280.0C126.6,286.0 131.6,298.0 136.6,306.0C141.6,314.0 146.7,319.8 151.7,328.0C156.7,336.2 161.6,348.2 166.6,355.0C171.6,361.8 177.3,366.2 181.5,369.0C185.7,371.8 188.1,372.2 192.0,372.0C195.9,371.8 200.4,370.7 205.0,368.0C209.6,365.3 214.6,361.7 219.5,356.0C224.4,350.3 229.6,343.5 234.7,334.0C239.8,324.5 245.0,312.8 250.0,299.0C255.0,285.2 259.8,267.5 264.8,251.0C269.8,234.5 275.8,213.8 280.0,200.0C284.2,186.2 287.2,176.3 290.0,168.0C292.8,159.7 294.8,154.7 297.0,150.0C299.2,145.3 300.8,142.4 303.0,140.0C305.2,137.6 307.8,135.2 310.0,135.5C312.2,135.8 313.6,137.1 316.2,142.0C318.8,146.9 322.8,157.2 325.6,165.0C328.4,172.8 330.6,180.5 333.0,189.0C335.4,197.5 336.6,202.8 340.3,216.0C344.0,229.2 350.4,252.7 355.4,268.0C360.3,283.3 365.0,296.7 370.0,308.0C375.0,319.3 380.2,327.8 385.4,336.0C390.6,344.2 394.7,350.8 401.0,357.0C407.3,363.2 414.2,367.5 423.0,373.5C431.8,379.5 448.5,389.8 453.6,393.0" fill="none" stroke="#000" stroke-width="1.35" stroke-dasharray="1.6 1.9"/>
<circle cx="68.5" cy="244.8" r="4.1" fill="#fff" stroke="#000" stroke-width="1.5"/><circle cx="76.0" cy="244.8" r="4.1" fill="#fff" stroke="#000" stroke-width="1.5"/><circle cx="83.6" cy="185.3" r="4.1" fill="#fff" stroke="#000" stroke-width="1.5"/><circle cx="91.1" cy="190.0" r="4.1" fill="#fff" stroke="#000" stroke-width="1.5"/><circle cx="98.7" cy="208.0" r="4.1" fill="#fff" stroke="#000" stroke-width="1.5"/><circle cx="106.2" cy="232.5" r="4.1" fill="#fff" stroke="#000" stroke-width="1.5"/><circle cx="113.8" cy="247.0" r="4.1" fill="#fff" stroke="#000" stroke-width="1.5"/><circle cx="121.3" cy="270.3" r="4.1" fill="#fff" stroke="#000" stroke-width="1.5"/><circle cx="128.9" cy="285.4" r="4.1" fill="#fff" stroke="#000" stroke-width="1.5"/><circle cx="136.4" cy="290.0" r="4.1" fill="#fff" stroke="#000" stroke-width="1.5"/><circle cx="144.0" cy="316.5" r="4.1" fill="#fff" stroke="#000" stroke-width="1.5"/><circle cx="151.5" cy="330.0" r="4.1" fill="#fff" stroke="#000" stroke-width="1.5"/><circle cx="159.0" cy="343.5" r="4.1" fill="#fff" stroke="#000" stroke-width="1.5"/><circle cx="166.6" cy="356.5" r="4.1" fill="#fff" stroke="#000" stroke-width="1.5"/><circle cx="174.0" cy="364.0" r="4.1" fill="#fff" stroke="#000" stroke-width="1.5"/><circle cx="181.5" cy="371.0" r="4.1" fill="#fff" stroke="#000" stroke-width="1.5"/><circle cx="189.4" cy="375.0" r="4.1" fill="#fff" stroke="#000" stroke-width="1.5"/><circle cx="196.7" cy="377.2" r="4.1" fill="#fff" stroke="#000" stroke-width="1.5"/><circle cx="204.4" cy="376.0" r="4.1" fill="#fff" stroke="#000" stroke-width="1.5"/><circle cx="211.9" cy="374.0" r="4.1" fill="#fff" stroke="#000" stroke-width="1.5"/><circle cx="219.5" cy="370.0" r="4.1" fill="#fff" stroke="#000" stroke-width="1.5"/><circle cx="227.2" cy="364.7" r="4.1" fill="#fff" stroke="#000" stroke-width="1.5"/><circle cx="234.7" cy="354.3" r="4.1" fill="#fff" stroke="#000" stroke-width="1.5"/><circle cx="242.4" cy="340.9" r="4.1" fill="#fff" stroke="#000" stroke-width="1.5"/><circle cx="250.0" cy="326.3" r="4.1" fill="#fff" stroke="#000" stroke-width="1.5"/><circle cx="257.5" cy="306.6" r="4.1" fill="#fff" stroke="#000" stroke-width="1.5"/><circle cx="264.8" cy="282.7" r="4.1" fill="#fff" stroke="#000" stroke-width="1.5"/><circle cx="272.4" cy="256.3" r="4.1" fill="#fff" stroke="#000" stroke-width="1.5"/><circle cx="280.0" cy="229.0" r="4.1" fill="#fff" stroke="#000" stroke-width="1.5"/><circle cx="287.5" cy="203.5" r="4.1" fill="#fff" stroke="#000" stroke-width="1.5"/><circle cx="295.4" cy="180.5" r="4.1" fill="#fff" stroke="#000" stroke-width="1.5"/><circle cx="303.0" cy="164.4" r="4.1" fill="#fff" stroke="#000" stroke-width="1.5"/><circle cx="310.5" cy="155.0" r="4.1" fill="#fff" stroke="#000" stroke-width="1.5"/><circle cx="318.0" cy="154.0" r="4.1" fill="#fff" stroke="#000" stroke-width="1.5"/><circle cx="325.6" cy="162.5" r="4.1" fill="#fff" stroke="#000" stroke-width="1.5"/><circle cx="333.1" cy="180.5" r="4.1" fill="#fff" stroke="#000" stroke-width="1.5"/><circle cx="340.5" cy="203.5" r="4.1" fill="#fff" stroke="#000" stroke-width="1.5"/><circle cx="347.8" cy="230.0" r="4.1" fill="#fff" stroke="#000" stroke-width="1.5"/><circle cx="354.8" cy="256.3" r="4.1" fill="#fff" stroke="#000" stroke-width="1.5"/><circle cx="362.5" cy="280.0" r="4.1" fill="#fff" stroke="#000" stroke-width="1.5"/><circle cx="370.1" cy="299.6" r="4.1" fill="#fff" stroke="#000" stroke-width="1.5"/><circle cx="378.0" cy="315.7" r="4.1" fill="#fff" stroke="#000" stroke-width="1.5"/><circle cx="385.4" cy="329.0" r="4.1" fill="#fff" stroke="#000" stroke-width="1.5"/><circle cx="393.2" cy="340.0" r="4.1" fill="#fff" stroke="#000" stroke-width="1.5"/><circle cx="401.0" cy="348.4" r="4.1" fill="#fff" stroke="#000" stroke-width="1.5"/><circle cx="408.5" cy="355.0" r="4.1" fill="#fff" stroke="#000" stroke-width="1.5"/><circle cx="416.0" cy="361.8" r="4.1" fill="#fff" stroke="#000" stroke-width="1.5"/><circle cx="423.4" cy="367.2" r="4.1" fill="#fff" stroke="#000" stroke-width="1.5"/><circle cx="431.0" cy="372.6" r="4.1" fill="#fff" stroke="#000" stroke-width="1.5"/><circle cx="438.6" cy="377.3" r="4.1" fill="#fff" stroke="#000" stroke-width="1.5"/><circle cx="446.0" cy="381.2" r="4.1" fill="#fff" stroke="#000" stroke-width="1.5"/><circle cx="453.7" cy="385.9" r="4.1" fill="#fff" stroke="#000" stroke-width="1.5"/>
<path d="M72.6,100.5C74.8,106.8 81.8,124.4 86.0,138.6C90.2,152.8 93.8,169.9 97.7,185.5C101.6,201.1 105.5,217.5 109.3,232.3C113.1,247.1 116.9,261.2 120.7,274.5C124.5,287.8 128.2,301.8 132.0,312.0C135.8,322.2 139.7,328.8 143.5,335.5C147.3,342.2 151.2,347.5 155.0,352.0C158.8,356.5 162.7,359.4 166.5,362.5C170.3,365.6 174.2,368.0 178.0,370.5C181.8,373.0 185.7,375.8 189.4,377.5C193.1,379.2 196.2,380.8 200.0,381.0C203.8,381.2 207.5,380.8 212.0,378.5C216.5,376.2 221.9,373.1 227.0,367.0C232.1,360.9 237.3,352.2 242.4,342.0C247.5,331.8 252.5,320.3 257.5,306.0C262.5,291.7 267.4,273.2 272.4,256.0C277.4,238.8 283.4,217.0 287.5,203.0C291.6,189.0 294.1,180.5 297.0,172.0C299.9,163.5 302.3,156.7 305.0,152.0C307.7,147.3 310.5,144.8 313.0,144.0C315.5,143.2 317.7,144.3 320.0,147.0C322.3,149.7 324.8,154.8 327.0,160.0C329.2,165.2 330.8,170.8 333.0,178.0C335.2,185.2 336.9,190.5 340.5,203.5C344.1,216.5 349.9,239.9 354.8,256.0C359.7,272.1 364.9,287.8 370.0,300.0C375.1,312.2 380.2,321.0 385.4,329.0C390.6,337.0 395.9,342.8 401.0,348.0C406.1,353.2 411.0,357.0 416.0,360.0C421.0,363.0 424.7,364.3 431.0,366.0C437.3,367.7 449.8,369.3 453.6,370.0" fill="none" stroke="#000" stroke-width="1.35" stroke-dasharray="1.6 1.9"/>
<path d="M64.5,245.0C65.4,245.1 68.1,245.7 70.0,245.5C71.9,245.3 74.3,249.1 76.0,244.0C77.7,238.9 78.7,224.3 80.0,215.0C81.3,205.7 83.0,192.5 83.6,188.0" fill="none" stroke="#000" stroke-width="1.35" stroke-dasharray="1.6 1.9"/>
<circle cx="68.5" cy="155.0" r="4.1" fill="#000" stroke="#000" stroke-width="1.5"/><circle cx="76.6" cy="169.2" r="4.1" fill="#000" stroke="#000" stroke-width="1.5"/><circle cx="83.6" cy="185.3" r="4.1" fill="#000" stroke="#000" stroke-width="1.5"/><circle cx="91.1" cy="201.3" r="4.1" fill="#000" stroke="#000" stroke-width="1.5"/><circle cx="98.7" cy="219.5" r="4.1" fill="#000" stroke="#000" stroke-width="1.5"/><circle cx="106.2" cy="233.0" r="4.1" fill="#000" stroke="#000" stroke-width="1.5"/><circle cx="114.2" cy="245.8" r="4.1" fill="#000" stroke="#000" stroke-width="1.5"/><circle cx="121.7" cy="264.6" r="4.1" fill="#000" stroke="#000" stroke-width="1.5"/><circle cx="129.2" cy="278.8" r="4.1" fill="#000" stroke="#000" stroke-width="1.5"/><circle cx="136.4" cy="301.5" r="4.1" fill="#000" stroke="#000" stroke-width="1.5"/><circle cx="144.0" cy="311.5" r="4.1" fill="#000" stroke="#000" stroke-width="1.5"/><circle cx="151.3" cy="325.0" r="4.1" fill="#000" stroke="#000" stroke-width="1.5"/><circle cx="158.9" cy="338.5" r="4.1" fill="#000" stroke="#000" stroke-width="1.5"/><circle cx="166.6" cy="351.5" r="4.1" fill="#000" stroke="#000" stroke-width="1.5"/><circle cx="173.9" cy="364.0" r="4.1" fill="#000" stroke="#000" stroke-width="1.5"/><circle cx="181.5" cy="375.0" r="4.1" fill="#000" stroke="#000" stroke-width="1.5"/><circle cx="189.4" cy="383.4" r="4.1" fill="#000" stroke="#000" stroke-width="1.5"/><circle cx="196.7" cy="389.6" r="4.1" fill="#000" stroke="#000" stroke-width="1.5"/><circle cx="204.4" cy="392.7" r="4.1" fill="#000" stroke="#000" stroke-width="1.5"/><circle cx="211.9" cy="393.8" r="4.1" fill="#000" stroke="#000" stroke-width="1.5"/><circle cx="219.5" cy="391.7" r="4.1" fill="#000" stroke="#000" stroke-width="1.5"/><circle cx="227.2" cy="388.6" r="4.1" fill="#000" stroke="#000" stroke-width="1.5"/><circle cx="234.7" cy="384.4" r="4.1" fill="#000" stroke="#000" stroke-width="1.5"/><circle cx="242.4" cy="377.2" r="4.1" fill="#000" stroke="#000" stroke-width="1.5"/><circle cx="250.0" cy="366.8" r="4.1" fill="#000" stroke="#000" stroke-width="1.5"/><circle cx="257.5" cy="351.2" r="4.1" fill="#000" stroke="#000" stroke-width="1.5"/><circle cx="265.0" cy="332.0" r="4.1" fill="#000" stroke="#000" stroke-width="1.5"/><circle cx="272.5" cy="309.0" r="4.1" fill="#000" stroke="#000" stroke-width="1.5"/><circle cx="280.0" cy="283.7" r="4.1" fill="#000" stroke="#000" stroke-width="1.5"/><circle cx="287.5" cy="254.4" r="4.1" fill="#000" stroke="#000" stroke-width="1.5"/><circle cx="295.0" cy="223.3" r="4.1" fill="#000" stroke="#000" stroke-width="1.5"/><circle cx="302.6" cy="196.0" r="4.1" fill="#000" stroke="#000" stroke-width="1.5"/><circle cx="310.2" cy="172.0" r="4.1" fill="#000" stroke="#000" stroke-width="1.5"/><circle cx="317.7" cy="152.2" r="4.1" fill="#000" stroke="#000" stroke-width="1.5"/><circle cx="325.6" cy="139.0" r="4.1" fill="#000" stroke="#000" stroke-width="1.5"/><circle cx="333.1" cy="134.8" r="4.1" fill="#000" stroke="#000" stroke-width="1.5"/><circle cx="340.7" cy="139.9" r="4.1" fill="#000" stroke="#000" stroke-width="1.5"/><circle cx="348.2" cy="153.7" r="4.1" fill="#000" stroke="#000" stroke-width="1.5"/><circle cx="355.8" cy="175.8" r="4.1" fill="#000" stroke="#000" stroke-width="1.5"/><circle cx="363.3" cy="202.2" r="4.1" fill="#000" stroke="#000" stroke-width="1.5"/><circle cx="370.5" cy="230.8" r="4.1" fill="#000" stroke="#000" stroke-width="1.5"/><circle cx="378.0" cy="258.2" r="4.1" fill="#000" stroke="#000" stroke-width="1.5"/><circle cx="385.4" cy="282.0" r="4.1" fill="#000" stroke="#000" stroke-width="1.5"/><circle cx="393.2" cy="302.2" r="4.1" fill="#000" stroke="#000" stroke-width="1.5"/><circle cx="401.2" cy="318.3" r="4.1" fill="#000" stroke="#000" stroke-width="1.5"/><circle cx="408.9" cy="332.7" r="4.1" fill="#000" stroke="#000" stroke-width="1.5"/><circle cx="416.5" cy="343.5" r="4.1" fill="#000" stroke="#000" stroke-width="1.5"/><circle cx="423.4" cy="352.6" r="4.1" fill="#000" stroke="#000" stroke-width="1.5"/><circle cx="431.0" cy="359.2" r="4.1" fill="#000" stroke="#000" stroke-width="1.5"/><circle cx="438.5" cy="362.0" r="4.1" fill="#000" stroke="#000" stroke-width="1.5"/><circle cx="446.0" cy="363.0" r="4.1" fill="#000" stroke="#000" stroke-width="1.5"/><circle cx="453.6" cy="363.0" r="4.1" fill="#000" stroke="#000" stroke-width="1.5"/>
<path d="M70.0,100.5C72.2,106.8 79.2,124.4 83.4,138.6C87.6,152.8 91.3,169.9 95.2,185.5C99.1,201.1 103.0,217.5 106.9,232.3C110.8,247.1 114.7,260.8 118.6,274.5C122.5,288.2 126.4,303.8 130.3,314.4C134.2,324.9 138.1,331.2 142.0,337.8C145.9,344.4 149.9,349.6 153.8,354.0C157.7,358.4 161.6,361.3 165.5,364.5C169.4,367.7 173.4,369.9 177.2,373.0C180.9,376.1 184.2,379.7 188.0,383.0C191.8,386.3 196.0,390.4 200.0,393.0C204.0,395.6 207.5,398.2 212.0,398.5C216.5,398.8 221.9,397.4 227.0,394.5C232.1,391.6 238.2,385.6 242.4,381.0C246.6,376.4 248.2,374.8 252.0,367.0C255.8,359.2 260.3,347.7 265.0,334.0C269.7,320.3 275.0,303.3 280.0,285.0C285.0,266.7 290.0,243.0 295.0,224.0C300.0,205.0 306.2,183.7 310.0,171.0C313.8,158.3 315.4,154.3 318.0,148.0C320.6,141.7 323.1,136.2 325.6,133.0C328.1,129.8 330.5,128.5 333.0,129.0C335.5,129.5 338.2,132.2 340.7,136.0C343.2,139.8 345.7,145.4 348.2,152.0C350.7,158.6 352.1,162.6 355.8,175.8C359.5,189.0 365.6,213.3 370.5,231.0C375.4,248.7 380.3,267.5 385.4,282.0C390.5,296.5 396.0,307.8 401.2,318.0C406.4,328.2 411.5,336.7 416.5,343.5C421.5,350.3 424.8,355.2 431.0,359.0C437.2,362.8 449.8,364.8 453.6,366.0" fill="none" stroke="#000" stroke-width="1.35" stroke-dasharray="1.6 1.9"/>
</g>
<g fill="none" stroke="#000" stroke-width="1.3">
<rect x="64.2" y="7.0" width="405.5" height="404.9"/>
<path d="M82.5,411.9v-9.2M101.0,411.9v-6.0M111.8,411.9v-6.0M119.5,411.9v-6.0M125.4,411.9v-6.0M130.3,411.9v-6.0M134.4,411.9v-6.0M137.9,411.9v-6.0M141.1,411.9v-6.0M143.9,411.9v-9.2M162.4,411.9v-6.0M173.2,411.9v-6.0M180.8,411.9v-6.0M186.8,411.9v-6.0M191.6,411.9v-6.0M195.8,411.9v-6.0M199.3,411.9v-6.0M202.5,411.9v-6.0M205.3,411.9v-9.2M223.7,411.9v-6.0M234.5,411.9v-6.0M242.2,411.9v-6.0M248.2,411.9v-6.0M253.0,411.9v-6.0M257.1,411.9v-6.0M260.7,411.9v-6.0M263.8,411.9v-6.0M266.6,411.9v-9.2M285.1,411.9v-6.0M295.9,411.9v-6.0M303.6,411.9v-6.0M309.5,411.9v-6.0M314.4,411.9v-6.0M318.5,411.9v-6.0M322.1,411.9v-6.0M325.2,411.9v-6.0M328.0,411.9v-9.2M346.5,411.9v-6.0M357.3,411.9v-6.0M365.0,411.9v-6.0M370.9,411.9v-6.0M375.8,411.9v-6.0M379.9,411.9v-6.0M383.5,411.9v-6.0M386.6,411.9v-6.0M389.4,411.9v-9.2M407.9,411.9v-6.0M418.7,411.9v-6.0M426.4,411.9v-6.0M432.3,411.9v-6.0M437.2,411.9v-6.0M441.3,411.9v-6.0M444.8,411.9v-6.0M448.0,411.9v-6.0M450.8,411.9v-9.2M64.2,400.5h6.0M64.2,390.1h9.2M64.2,322.3h6.0M64.2,282.6h6.0M64.2,254.4h6.0M64.2,232.5h6.0M64.2,214.7h6.0M64.2,199.6h6.0M64.2,186.5h6.0M64.2,175.0h6.0M64.2,164.6h9.2M64.2,96.8h6.0M64.2,57.1h6.0M64.2,28.9h6.0M469.7,47.1h-6.0M469.7,87.7h-9.2M469.7,128.2h-6.0M469.7,168.7h-9.2M469.7,209.2h-6.0M469.7,249.8h-9.2M469.7,290.3h-6.0M469.7,330.8h-9.2M469.7,371.4h-6.0"/>
</g>
<g font-family='"Liberation Sans", sans-serif' fill="#000">
<text x="10.4" y="18" font-size="17.8">(a)</text>
<text x="103" y="80.8" font-size="20.6">0.17 M F<tspan dy="-7.5" font-size="15" font-weight="bold">-</tspan><tspan dy="7.5"> - 0.3 M H</tspan><tspan dy="4" font-size="13">2</tspan><tspan dy="-4">O</tspan></text>
<rect x="362.6" y="31.8" width="10.4" height="10.4" fill="#fff" stroke="#000" stroke-width="1.5"/>
<text x="402.3" y="43.9" font-size="20.5">0.3 V</text>
<rect x="362.6" y="54.5" width="10.4" height="10.4" fill="#000" stroke="#000" stroke-width="1.5"/>
<text x="402.3" y="66.6" font-size="20.5">0.7 V</text>
<circle cx="367.8" cy="82.4" r="5.2" fill="#fff" stroke="#000" stroke-width="1.5"/>
<text x="402.3" y="89.3" font-size="20.5">1.2 V</text>
<circle cx="367.8" cy="105.1" r="5.2" fill="#000" stroke="#000" stroke-width="1.5"/>
<text x="402.3" y="112.0" font-size="20.5">2.2 V</text>
<g font-weight="bold" font-size="17.5">
<text x="67.7" y="439"><tspan>10</tspan><tspan dy="-7" font-size="11.5">-2</tspan></text>
<text x="129.1" y="439"><tspan>10</tspan><tspan dy="-7" font-size="11.5">-1</tspan></text>
<text x="192.4" y="439"><tspan>10</tspan><tspan dy="-7" font-size="11.5">0</tspan></text>
<text x="253.7" y="439"><tspan>10</tspan><tspan dy="-7" font-size="11.5">1</tspan></text>
<text x="315.1" y="439"><tspan>10</tspan><tspan dy="-7" font-size="11.5">2</tspan></text>
<text x="376.5" y="439"><tspan>10</tspan><tspan dy="-7" font-size="11.5">3</tspan></text>
<text x="437.9" y="439"><tspan>10</tspan><tspan dy="-7" font-size="11.5">4</tspan></text>
<text x="31.3" y="170.4"><tspan>10</tspan><tspan dy="-7" font-size="11.5">3</tspan></text>
<text x="31.3" y="395.9"><tspan>10</tspan><tspan dy="-7" font-size="11.5">2</tspan></text>
<text x="477.3" y="12.6">-90</text>
<text x="477.3" y="93.7">-70</text>
<text x="477.3" y="174.7">-50</text>
<text x="477.3" y="255.8">-30</text>
<text x="477.3" y="336.8">-10</text>
<text x="477.8" y="417.9">10</text>
</g>
<text x="267" y="471.5" font-size="20" text-anchor="middle">frequency / Hz</text>
<text transform="translate(19.7,208.7) rotate(-90)" font-size="20.3" text-anchor="middle">|Z| / ohm cm<tspan dy="-8.5" font-size="12.5">2</tspan></text>
<text transform="translate(515,210) rotate(90)" font-size="20.2" text-anchor="middle">phase / deg</text>
</g>
<g clip-path="url(#cb)">
<path d="M82.3,711.0L84.3,711.1L86.3,711.0L88.3,710.8L90.3,710.3L92.3,709.7L94.3,708.9L96.3,707.9L98.3,706.7L100.3,705.3L102.3,703.8L104.3,702.0L106.3,700.0L108.3,697.8L110.3,695.5L112.3,693.1L114.3,690.6L116.3,688.1L118.3,685.6L120.3,683.1L122.3,680.8L124.3,678.5L126.3,676.4L128.3,674.3L130.3,672.4L132.3,670.5L134.3,668.7L136.3,667.0L138.3,665.4L140.3,663.8L142.3,662.3L144.3,660.9L146.3,659.6L148.3,658.3L150.3,657.0L152.3,655.8L154.3,654.7L156.3,653.6L158.3,652.6L160.3,651.6L162.3,650.6L164.3,649.7L166.3,648.8L168.3,647.9L170.3,647.0L172.3,646.1L174.3,645.3L176.3,644.5L178.3,643.7L180.3,642.9L182.3,642.0L184.3,641.2L186.3,640.5L188.3,639.7L190.3,638.9L192.3,638.1L194.3,637.3L196.3,636.6L198.3,635.8L200.3,635.1L202.3,634.3L204.3,633.6L206.3,632.8L208.3,632.1L210.3,631.3L212.3,630.6L214.3,629.9L216.3,629.2L218.3,628.4L220.3,627.7L222.3,627.0L224.3,626.3L226.3,625.6L228.3,624.8L230.3,624.1L232.3,623.4L234.3,622.7L236.3,622.0L238.3,621.3L240.3,620.6L242.3,619.9L244.3,619.2L246.3,618.5L248.3,617.8L250.3,617.0L252.3,616.3L254.3,615.6L256.3,614.9L258.3,614.2L260.3,613.5L262.3,612.8L264.3,612.0L266.3,611.3L268.3,610.6L270.3,609.9L272.3,609.1L274.3,608.4L276.3,607.6L278.3,606.9L280.3,606.2L282.3,605.4L284.3,604.7L286.3,603.9L288.3,603.1L290.3,602.4L292.3,601.6L294.3,600.8L296.3,600.0L298.3,599.2L300.3,598.4L302.3,597.6L304.3,596.8L306.3,596.0L308.3,595.2L310.3,594.3L312.3,593.5L314.3,592.7L316.3,591.8L318.3,590.9L320.3,590.1L322.3,589.2L324.3,588.3L326.3,587.4L328.3,586.5L330.3,585.6L332.3,584.7L334.3,583.8L336.3,582.9L338.3,581.9L340.3,581.0L342.3,580.0L344.3,579.1L346.3,578.1L348.3,577.1L350.3,576.1L352.3,575.2L354.3,574.2L356.3,573.1L358.3,572.1L360.3,571.1L362.3,570.1L364.3,569.0L366.3,568.0L368.3,566.9L370.3,565.9L372.3,564.8L374.3,563.7L376.3,562.7L378.3,561.6L380.3,560.5L382.3,559.4L384.3,558.2L386.3,557.1L388.3,556.0L390.3,554.8L392.3,553.7L394.3,552.5L396.3,551.4L398.3,550.2L400.3,549.0L402.3,547.8L404.3,546.6L406.3,545.4L408.3,544.2L410.3,543.0L412.3,541.7L414.3,540.5L416.3,539.2L418.3,538.0L420.3,536.7L422.3,535.4L424.3,534.1L426.3,532.9L428.3,531.6L430.3,530.2L432.3,528.9L434.3,527.6L436.3,526.3L438.3,524.9L440.3,523.6L442.3,522.2L444.3,520.8L446.3,519.4L448.3,518.1L450.3,516.7L452.3,515.2L454.3,513.8L456.3,512.4L458.3,511.0L460.3,509.5L462.3,508.1L464.3,506.6L465.0,506.1" fill="none" stroke="#000" stroke-width="1.3" stroke-linejoin="round"/>
<path d="M82.3,813.0C83.6,812.1 86.2,811.0 90.0,807.5C93.8,804.0 99.8,794.2 105.0,792.0C110.2,789.8 115.6,795.0 121.0,794.0C126.4,793.0 131.0,791.4 137.5,786.0C144.0,780.6 149.6,772.6 160.0,761.5C170.4,750.4 186.8,733.8 200.0,719.5C213.2,705.2 227.3,688.0 239.0,676.0C250.7,664.0 256.9,659.9 270.0,647.4C283.1,634.9 304.3,612.7 317.5,601.0C330.7,589.3 336.0,587.0 349.2,577.3C362.4,567.6 383.6,553.2 396.8,542.8C410.0,532.4 421.3,521.5 428.5,515.0C435.7,508.5 438.1,505.8 440.0,504.0" fill="none" stroke="#000" stroke-width="1.3" stroke-dasharray="5 4"/>
<circle cx="90.0" cy="807.5" r="3.6" fill="#fff" stroke="#444" stroke-width="0.9"/>
<circle cx="105.0" cy="791.0" r="3.6" fill="#fff" stroke="#444" stroke-width="0.9"/>
<circle cx="121.0" cy="794.0" r="3.6" fill="#fff" stroke="#444" stroke-width="0.9"/>
<circle cx="137.5" cy="786.0" r="3.6" fill="#fff" stroke="#444" stroke-width="0.9"/>
<circle cx="160.0" cy="761.5" r="3.6" fill="#fff" stroke="#444" stroke-width="0.9"/>
<circle cx="239.0" cy="676.0" r="3.6" fill="#fff" stroke="#444" stroke-width="0.9"/>
<circle cx="317.5" cy="601.0" r="3.6" fill="#fff" stroke="#444" stroke-width="0.9"/>
<circle cx="396.0" cy="543.0" r="3.6" fill="#fff" stroke="#444" stroke-width="0.9"/>
<rect x="101.8" y="782.8" width="6.4" height="6.4" fill="#000"/>
<rect x="133.3" y="758.3" width="6.4" height="6.4" fill="#000"/>
<rect x="173.3" y="741.8" width="6.4" height="6.4" fill="#000"/>
<rect x="212.8" y="731.8" width="6.4" height="6.4" fill="#000"/>
<path d="M84.0,749.8L95.0,749.8L89.5,759.7Z" fill="#fff" stroke="#000" stroke-width="1.1" stroke-linejoin="miter"/>
<path d="M99.5,714.8L110.5,714.8L105.0,724.7Z" fill="#fff" stroke="#000" stroke-width="1.1" stroke-linejoin="miter"/>
<path d="M115.5,670.8L126.5,670.8L121.0,680.7Z" fill="#fff" stroke="#000" stroke-width="1.1" stroke-linejoin="miter"/>
<path d="M131.5,688.8L142.5,688.8L137.0,698.7Z" fill="#fff" stroke="#000" stroke-width="1.1" stroke-linejoin="miter"/>
<path d="M131.5,654.8L142.5,654.8L137.0,664.7Z" fill="#fff" stroke="#000" stroke-width="1.1" stroke-linejoin="miter"/>
<path d="M154.5,687.8L165.5,687.8L160.0,697.7Z" fill="#fff" stroke="#000" stroke-width="1.1" stroke-linejoin="miter"/>
<path d="M154.5,644.8L165.5,644.8L160.0,654.7Z" fill="#fff" stroke="#000" stroke-width="1.1" stroke-linejoin="miter"/>
<path d="M233.5,582.8L244.5,582.8L239.0,592.7Z" fill="#fff" stroke="#000" stroke-width="1.1" stroke-linejoin="miter"/>
<path d="M312.5,558.8L323.5,558.8L318.0,568.7Z" fill="#fff" stroke="#000" stroke-width="1.1" stroke-linejoin="miter"/>
<path d="M390.5,529.8L401.5,529.8L396.0,539.7Z" fill="#fff" stroke="#000" stroke-width="1.1" stroke-linejoin="miter"/>
<path d="M468.5,518.8L479.5,518.8L474.0,528.7Z" fill="#fff" stroke="#000" stroke-width="1.1" stroke-linejoin="miter"/>
</g>
<path d="M240,620.5H184" stroke="#444" stroke-width="0.9" fill="none"/><path d="M177.5,620.5l9,-2.4v4.8z" fill="#000"/>
<path d="M271,646.8H354" stroke="#444" stroke-width="0.9" fill="none"/><path d="M361,646.8l-9,-2.4v4.8z" fill="#000"/>
<g fill="none" stroke="#000" stroke-width="1.3">
<rect x="82.3" y="513.0" width="392.7" height="316.7"/>
<path d="M82.3,776.9h7M475.0,776.9h-7M82.3,724.1h7M475.0,724.1h-7M82.3,671.4h7M475.0,671.4h-7M82.3,618.6h7M475.0,618.6h-7M82.3,565.8h7M475.0,565.8h-7M160.8,829.7v-7M239.4,829.7v-7M317.9,829.7v-7M396.5,829.7v-7"/>
</g>
<g font-family='"Liberation Sans", sans-serif' fill="#000">
<text x="10.4" y="492.4" font-size="17.8">(b)</text>
<g font-weight="bold" font-size="19.4">
<text x="74.5" y="836.0" text-anchor="end">0.00</text>
<text x="482.5" y="836.0">0</text>
<text x="74.5" y="783.2" text-anchor="end">0.05</text>
<text x="482.5" y="783.2">5</text>
<text x="74.5" y="730.4" text-anchor="end">0.10</text>
<text x="482.5" y="730.4">10</text>
<text x="74.5" y="677.6" text-anchor="end">0.15</text>
<text x="482.5" y="677.6">15</text>
<text x="74.5" y="624.9" text-anchor="end">0.20</text>
<text x="482.5" y="624.9">20</text>
<text x="74.5" y="572.1" text-anchor="end">0.25</text>
<text x="482.5" y="572.1">25</text>
<text x="74.5" y="519.3" text-anchor="end">0.30</text>
<text x="482.5" y="519.3">30</text>
<text x="82.3" y="851.5" text-anchor="middle">0</text>
<text x="160.8" y="851.5" text-anchor="middle">1</text>
<text x="239.4" y="851.5" text-anchor="middle">2</text>
<text x="317.9" y="851.5" text-anchor="middle">3</text>
<text x="396.5" y="851.5" text-anchor="middle">4</text>
<text x="475.0" y="851.5" text-anchor="middle">5</text>
</g>
<text x="278.9" y="887.5" font-size="23.2" text-anchor="middle">E / V</text>
<text transform="translate(21.8,688.3) rotate(-90)" font-size="22.8" text-anchor="middle">i / mA cm<tspan dy="-8" font-size="13.5">-2</tspan></text>
<text transform="translate(529.7,687) rotate(-90)" font-size="22.4" text-anchor="middle">L / nm</text>
<path d="M287.0,721.8L298.0,721.8L292.5,731.7Z" fill="#fff" stroke="#000" stroke-width="1.1" stroke-linejoin="miter"/>
<text x="314" y="730.5" font-size="16.5">experimental</text>
<path d="M272.5,745.5H310" stroke="#000" stroke-width="1.2"/>
<text x="314" y="750.5" font-size="16.5">simulated</text>
<path d="M303,779.5h5.5M311.5,779.5h5M325,779.5h5M333,779.5h5.5" stroke="#000" stroke-width="1.2"/>
<circle cx="321" cy="779.5" r="3.6" fill="#fff" stroke="#444" stroke-width="0.9"/>
<text x="344" y="785.5" font-size="16.5">EIS</text>
<rect x="317.8" y="797" width="6.4" height="6.4" fill="#000"/>
<text x="344" y="806" font-size="16.5">XPS</text>
</g>
<g clip-path="url(#cc)">
<path d="M59.0,1027.2L61.0,1027.3L63.0,1027.5L65.0,1027.7L67.0,1028.1L69.0,1028.6L71.0,1029.2L73.0,1029.9L75.0,1030.7L77.0,1031.6L79.0,1032.6L81.0,1033.7L83.0,1034.9L85.0,1036.3L87.0,1037.7L89.0,1039.3L91.0,1041.0L93.0,1042.8L95.0,1044.7L97.0,1046.8L99.0,1048.9L101.0,1051.1L103.0,1053.5L105.0,1055.9L107.0,1058.3L109.0,1060.9L111.0,1063.5L113.0,1066.2L115.0,1068.9L117.0,1071.6L119.0,1074.4L121.0,1077.2L123.0,1080.1L125.0,1082.9L127.0,1085.8L129.0,1088.7L131.0,1091.6L133.0,1094.5L135.0,1097.4L137.0,1100.3L139.0,1103.2L141.0,1106.1L143.0,1109.0L145.0,1111.9L147.0,1114.8L149.0,1117.6L151.0,1120.5L153.0,1123.3L155.0,1126.1L157.0,1128.8L159.0,1131.6L161.0,1134.3L163.0,1137.0L165.0,1139.6L167.0,1142.2L169.0,1144.7L171.0,1147.2L173.0,1149.7L175.0,1152.1L177.0,1154.4L179.0,1156.7L181.0,1159.0L183.0,1161.1L185.0,1163.2L187.0,1165.3L189.0,1167.3L191.0,1169.2L193.0,1171.1L195.0,1172.9L197.0,1174.7L199.0,1176.4L201.0,1178.1L203.0,1179.7L205.0,1181.2L207.0,1182.8L209.0,1184.2L211.0,1185.6L213.0,1187.0L215.0,1188.3L217.0,1189.6L219.0,1190.9L221.0,1192.1L223.0,1193.2L225.0,1194.3L227.0,1195.4L229.0,1196.5L231.0,1197.5L233.0,1198.4L235.0,1199.4L237.0,1200.3L239.0,1201.1L241.0,1202.0L243.0,1202.8L245.0,1203.5L247.0,1204.3L249.0,1205.0L251.0,1205.7L253.0,1206.4L255.0,1207.0L257.0,1207.6L259.0,1208.2L261.0,1208.8L263.0,1209.3L265.0,1209.9L267.0,1210.4L269.0,1210.9L271.0,1211.3L273.0,1211.8L275.0,1212.2L277.0,1212.7L279.0,1213.1L281.0,1213.5L283.0,1213.9L285.0,1214.3L287.0,1214.7L289.0,1215.0L291.0,1215.4L293.0,1215.8L295.0,1216.1L297.0,1216.4L299.0,1216.8L301.0,1217.1L303.0,1217.4L305.0,1217.7L307.0,1218.0L309.0,1218.3L311.0,1218.6L313.0,1218.9L315.0,1219.1L317.0,1219.4L319.0,1219.6L321.0,1219.9L323.0,1220.1L325.0,1220.4L327.0,1220.6L329.0,1220.8L331.0,1221.0L333.0,1221.2L335.0,1221.4L337.0,1221.6L339.0,1221.8L341.0,1222.0L343.0,1222.2L345.0,1222.3L347.0,1222.5L349.0,1222.7L351.0,1222.8L353.0,1223.0L355.0,1223.1L357.0,1223.2L359.0,1223.4L361.0,1223.5L363.0,1223.6L365.0,1223.7L367.0,1223.9L369.0,1224.0L371.0,1224.1L373.0,1224.2L375.0,1224.3L377.0,1224.4L379.0,1224.4L381.0,1224.5L383.0,1224.6L385.0,1224.7L387.0,1224.8L389.0,1224.8L391.0,1224.9L393.0,1225.0L395.0,1225.0L397.0,1225.1L399.0,1225.1L401.0,1225.2L403.0,1225.2L405.0,1225.3L407.0,1225.3L409.0,1225.3L411.0,1225.4L413.0,1225.4L415.0,1225.4L417.0,1225.5L419.0,1225.5L421.0,1225.5L423.0,1225.5L425.0,1225.5L427.0,1225.6L429.0,1225.6L431.0,1225.6L433.0,1225.6L435.0,1225.6L437.0,1225.6L439.0,1225.6L441.0,1225.7L443.0,1225.7L445.0,1225.7L447.0,1225.7L449.0,1225.7L451.0,1225.7L453.0,1225.7L455.0,1225.7L457.0,1225.7L459.0,1225.7L461.0,1225.7L463.0,1225.7L465.0,1225.7L467.0,1225.7L469.0,1225.7L470.0,1225.7" fill="none" stroke="#000" stroke-width="1.3" stroke-linejoin="round"/>
<path d="M59.0,1198.1L61.0,1197.4L63.0,1196.6L65.0,1195.8L67.0,1194.9L69.0,1193.9L71.0,1192.9L73.0,1191.8L75.0,1190.6L77.0,1189.4L79.0,1188.2L81.0,1186.9L83.0,1185.6L85.0,1184.2L87.0,1182.8L89.0,1181.4L91.0,1180.0L93.0,1178.5L95.0,1177.1L97.0,1175.6L99.0,1174.1L101.0,1172.6L103.0,1171.1L105.0,1169.5L107.0,1168.0L109.0,1166.5L111.0,1165.0L113.0,1163.5L115.0,1162.1L117.0,1160.6L119.0,1159.2L121.0,1157.8L123.0,1156.4L125.0,1155.1L127.0,1153.7L129.0,1152.4L131.0,1151.1L133.0,1149.9L135.0,1148.7L137.0,1147.5L139.0,1146.3L141.0,1145.1L143.0,1144.0L145.0,1142.9L147.0,1141.8L149.0,1140.7L151.0,1139.7L153.0,1138.7L155.0,1137.7L157.0,1136.7L159.0,1135.7L161.0,1134.8L163.0,1133.9L165.0,1133.0L167.0,1132.1L169.0,1131.2L171.0,1130.4L173.0,1129.5L175.0,1128.7L177.0,1127.9L179.0,1127.2L181.0,1126.4L183.0,1125.7L185.0,1124.9L187.0,1124.2L189.0,1123.5L191.0,1122.8L193.0,1122.2L195.0,1121.5L197.0,1120.9L199.0,1120.3L201.0,1119.6L203.0,1119.0L205.0,1118.5L207.0,1117.9L209.0,1117.3L211.0,1116.8L213.0,1116.2L215.0,1115.7L217.0,1115.2L219.0,1114.7L221.0,1114.2L223.0,1113.7L225.0,1113.3L227.0,1112.8L229.0,1112.4L231.0,1111.9L233.0,1111.5L235.0,1111.1L237.0,1110.7L239.0,1110.3L241.0,1109.9L243.0,1109.5L245.0,1109.2L247.0,1108.8L249.0,1108.4L251.0,1108.1L253.0,1107.8L255.0,1107.4L257.0,1107.1L259.0,1106.8L261.0,1106.5L263.0,1106.2L265.0,1105.9L267.0,1105.6L269.0,1105.3L271.0,1105.1L273.0,1104.8L275.0,1104.5L277.0,1104.3L279.0,1104.0L281.0,1103.8L283.0,1103.5L285.0,1103.3L287.0,1103.1L289.0,1102.9L291.0,1102.6L293.0,1102.4L295.0,1102.2L297.0,1102.0L299.0,1101.8L301.0,1101.6L303.0,1101.4L305.0,1101.2L307.0,1101.0L309.0,1100.8L311.0,1100.6L313.0,1100.4L315.0,1100.2L317.0,1100.1L319.0,1099.9L321.0,1099.7L323.0,1099.5L325.0,1099.3L327.0,1099.2L329.0,1099.0L331.0,1098.8L333.0,1098.7L335.0,1098.5L337.0,1098.3L339.0,1098.2L341.0,1098.0L343.0,1097.8L345.0,1097.7L347.0,1097.5L349.0,1097.4L351.0,1097.2L353.0,1097.1L355.0,1096.9L357.0,1096.8L359.0,1096.6L361.0,1096.5L363.0,1096.4L365.0,1096.2L367.0,1096.1L369.0,1096.0L371.0,1095.8L373.0,1095.7L375.0,1095.6L377.0,1095.5L379.0,1095.3L381.0,1095.2L383.0,1095.1L385.0,1095.0L387.0,1094.9L389.0,1094.8L391.0,1094.7L393.0,1094.6L395.0,1094.5L397.0,1094.4L399.0,1094.3L401.0,1094.2L403.0,1094.1L405.0,1094.0L407.0,1093.9L409.0,1093.9L411.0,1093.8L413.0,1093.7L415.0,1093.6L417.0,1093.6L419.0,1093.5L421.0,1093.4L423.0,1093.4L425.0,1093.3L427.0,1093.3L429.0,1093.2L431.0,1093.2L433.0,1093.1L435.0,1093.1L437.0,1093.1L439.0,1093.0L441.0,1093.0L443.0,1093.0L445.0,1092.9L447.0,1092.9L449.0,1092.9L451.0,1092.9L453.0,1092.9L455.0,1092.9L457.0,1092.8L459.0,1092.8L461.0,1092.8L463.0,1092.8L465.0,1092.9L467.0,1092.9L469.0,1092.9L470.0,1092.9" fill="none" stroke="#000" stroke-width="1.3" stroke-linejoin="round"/>
</g>
<rect x="75.3" y="1166.3" width="8.4" height="8.4" fill="#000"/>
<rect x="157.3" y="1159.8" width="8.4" height="8.4" fill="#000"/>
<rect x="260.6" y="1108.8" width="8.4" height="8.4" fill="#000"/>
<rect x="363.1" y="1084.6" width="8.4" height="8.4" fill="#000"/>
<path d="M73.7,1046.5L84.9,1046.5L79.3,1037.0Z" fill="#fff" stroke="#000" stroke-width="1.0" stroke-linejoin="miter"/>
<path d="M155.9,1076.5L167.1,1076.5L161.5,1067.0Z" fill="#fff" stroke="#000" stroke-width="1.0" stroke-linejoin="miter"/>
<path d="M259.2,1149.0L270.4,1149.0L264.8,1139.5Z" fill="#fff" stroke="#000" stroke-width="1.0" stroke-linejoin="miter"/>
<path d="M361.9,1189.0L373.1,1189.0L367.5,1179.5Z" fill="#fff" stroke="#000" stroke-width="1.0" stroke-linejoin="miter"/>
<g fill="none" stroke="#000" stroke-width="1.3">
<rect x="59.0" y="926.0" width="411.0" height="300.0"/>
<path d="M59.0,1126.0h6M470.0,1126.0h-6M59.0,1026.0h6M470.0,1026.0h-6M141.2,1226.0v-6M223.4,1226.0v-6M305.6,1226.0v-6M387.8,1226.0v-6"/>
</g>
<g font-family='"Liberation Sans", sans-serif' fill="#000">
<text x="10.9" y="891.7" font-size="17.8">(c)</text>
<g font-weight="bold" font-size="16.9">
<text x="52.3" y="1231.6" text-anchor="end">0.0</text>
<text x="476.8" y="1231.6">0.0</text>
<text x="52.3" y="1131.6" text-anchor="end">0.1</text>
<text x="476.8" y="1131.6">0.1</text>
<text x="52.3" y="1031.6" text-anchor="end">0.2</text>
<text x="476.8" y="1031.6">0.2</text>
<text x="52.3" y="931.6" text-anchor="end">0.3</text>
<text x="476.8" y="931.6">0.3</text>
<text x="59.0" y="1248" text-anchor="middle">0.0</text>
<text x="141.2" y="1248" text-anchor="middle">0.4</text>
<text x="223.4" y="1248" text-anchor="middle">0.8</text>
<text x="305.6" y="1248" text-anchor="middle">1.2</text>
<text x="387.8" y="1248" text-anchor="middle">1.6</text>
<text x="470.0" y="1248" text-anchor="middle">2.0</text>
</g>
<text x="264.7" y="1280" font-size="21" text-anchor="middle">E / V</text>
<text transform="translate(15.4,1090.3) rotate(-90)" font-size="20.7" text-anchor="middle">atomic fraction of fluoride</text>
<text transform="translate(525.5,1088) rotate(-90)" font-size="20.6" text-anchor="middle">atomic fraction of Ti(III)</text>
<path d="M77.5,955H115" stroke="#000" stroke-width="1.2"/>
<text x="122" y="960.5" font-size="17.4">calculated</text>
<rect x="93.3" y="971.8" width="8.4" height="8.4" fill="#000"/>
<text x="122" y="981.5" font-size="17.4">fluoride, XPS</text>
<path d="M91.9,1002.5L103.1,1002.5L97.5,993.0Z" fill="#fff" stroke="#000" stroke-width="1.0" stroke-linejoin="miter"/>
<text x="122" y="1003.5" font-size="17.4">Ti(III), XPS</text>
</g>
</svg>
</body></html>
